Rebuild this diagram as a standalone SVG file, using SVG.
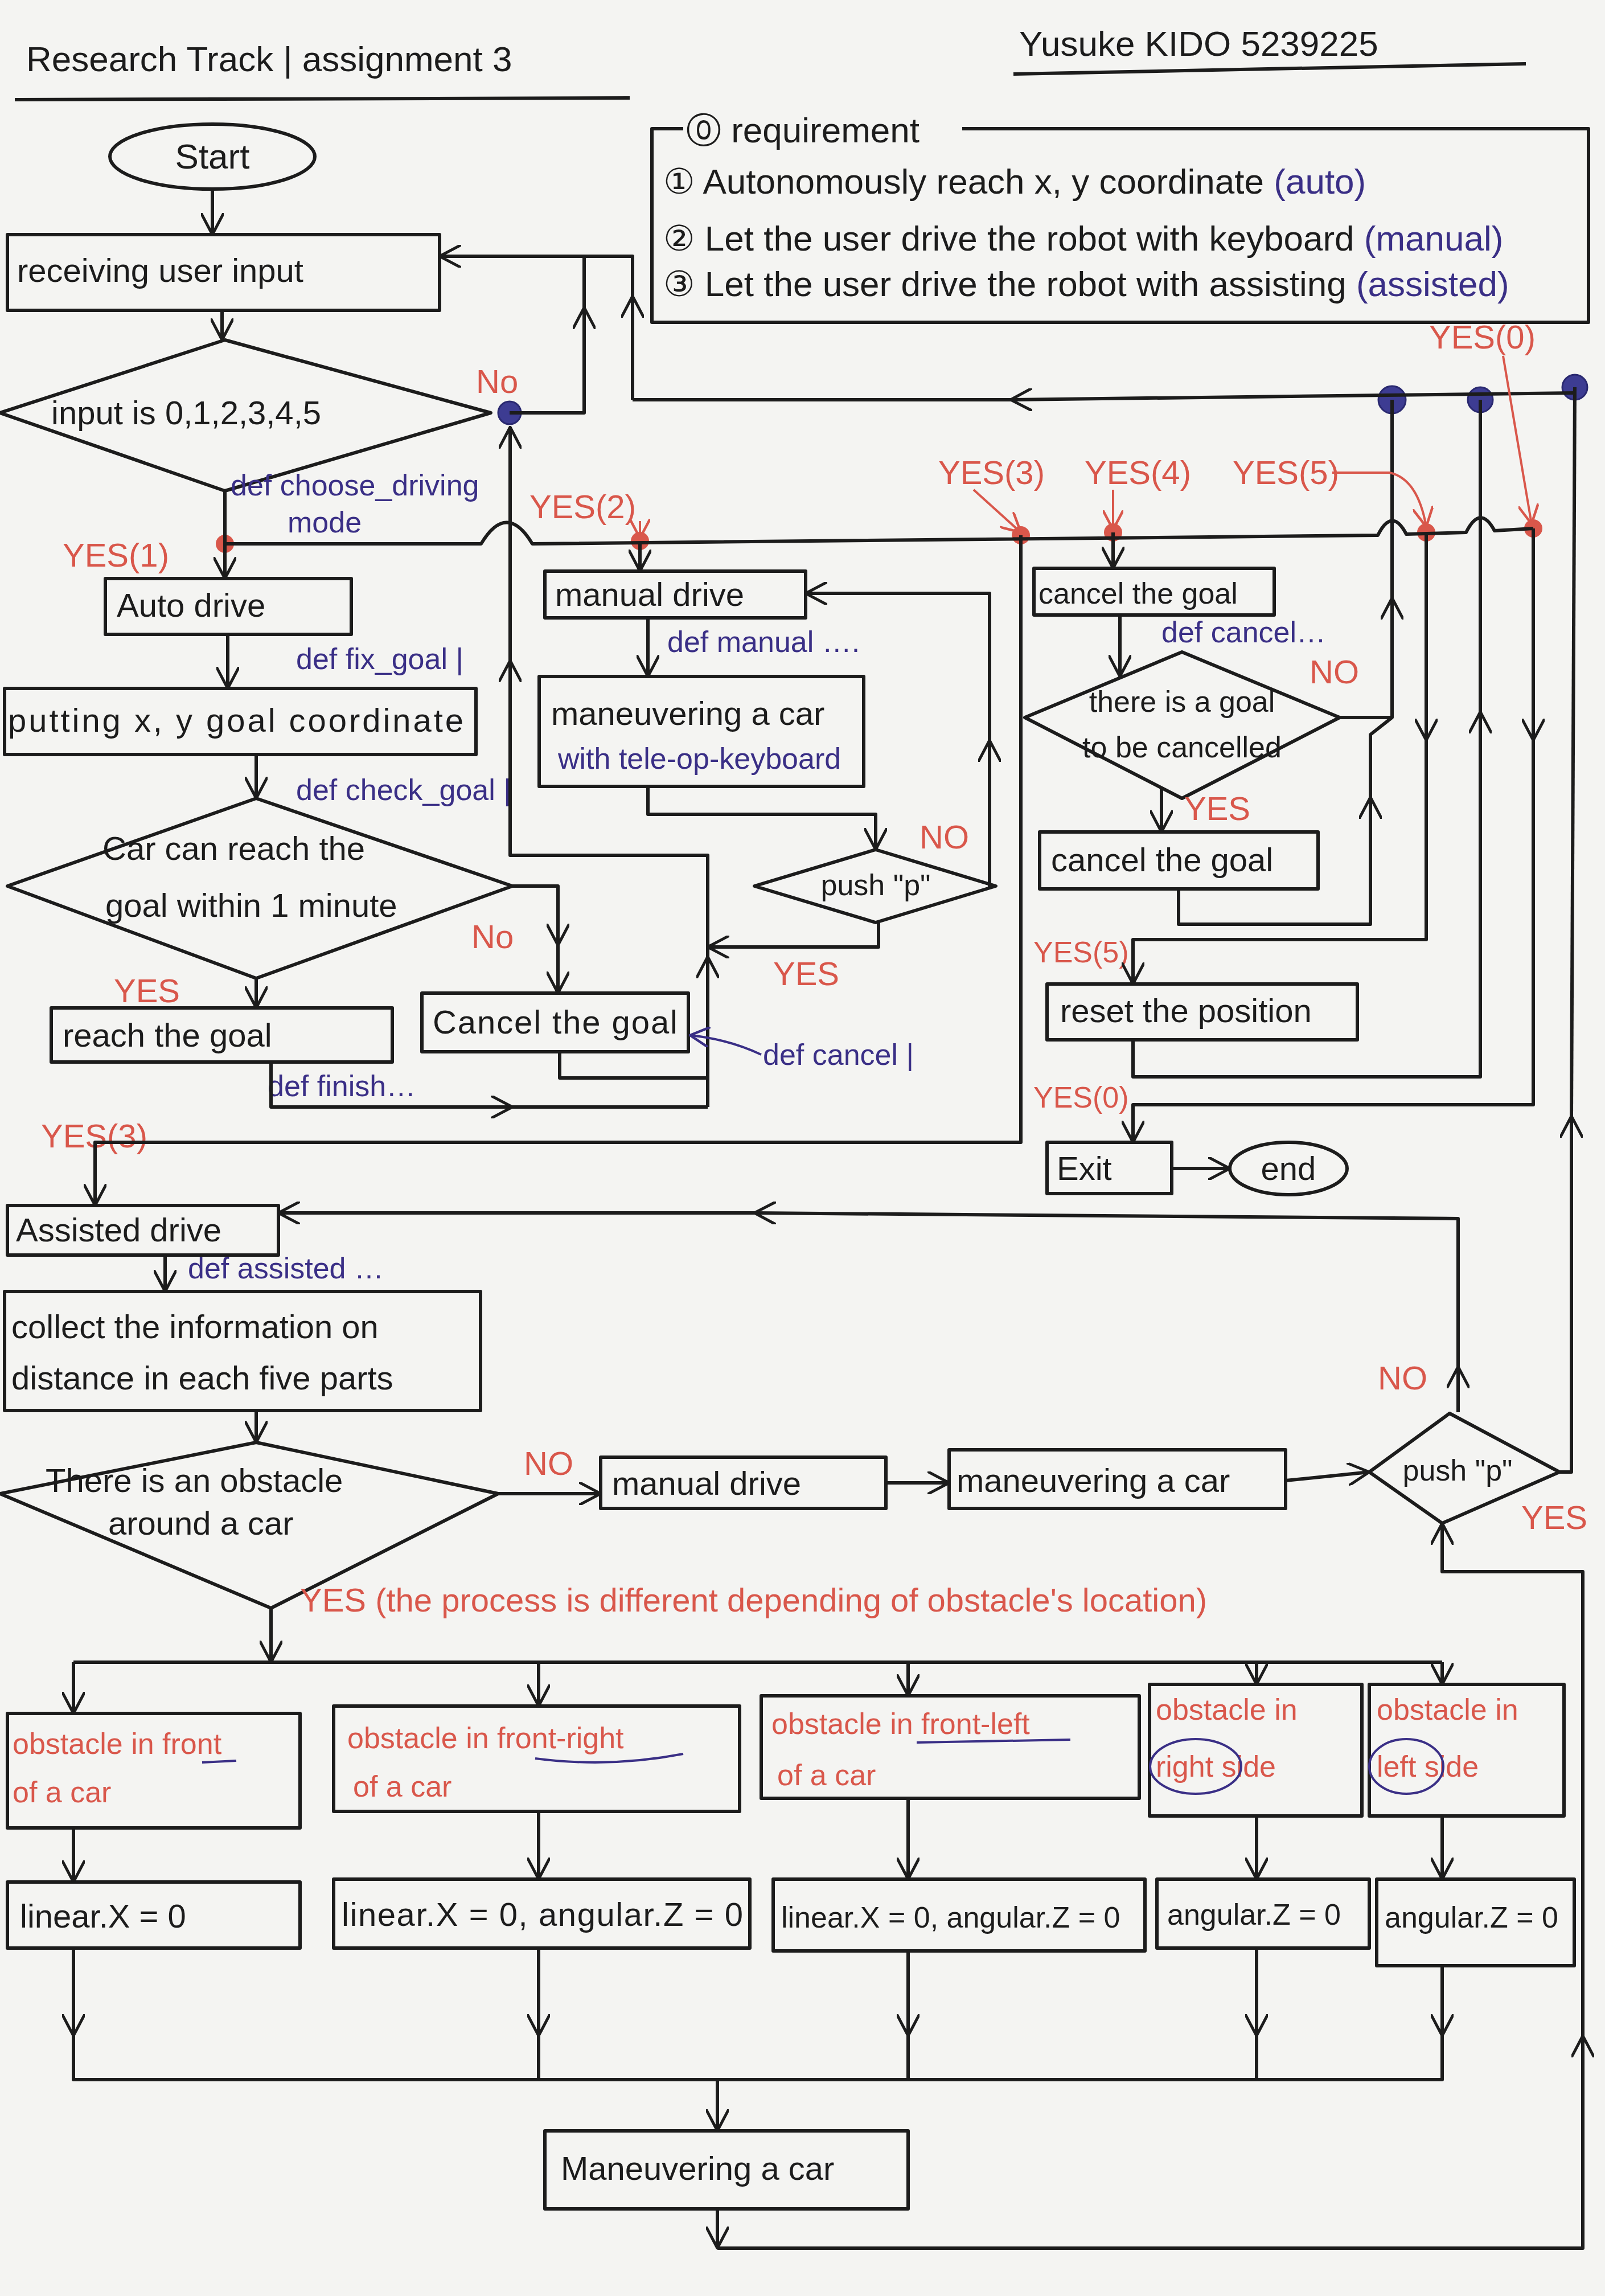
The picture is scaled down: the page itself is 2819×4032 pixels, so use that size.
<svg xmlns="http://www.w3.org/2000/svg" width="2819" height="4032" viewBox="0 0 2819 4032">
<defs>
<style>
.bg{fill:#f4f4f2}
.n{fill:none;stroke:#1c1c1c;stroke-width:6;stroke-linejoin:round}
.c path{fill:none;stroke:#1c1c1c;stroke-width:6;stroke-linejoin:round}
.c path.r{stroke:#d9574b;stroke-width:4}
.c path.b{stroke:#3a2f86;stroke-width:4}
text{font-family:"Liberation Sans","DejaVu Sans",sans-serif;fill:#1c1c1c;font-size:58px}
.t{font-size:62px}
.q{font-size:62px}
.red{fill:#d9574b}
.blu{fill:#3a2f86}
.s{font-size:52px}
.dotb{fill:#3d3c92;stroke:#2a2970;stroke-width:3}
.dotr{fill:#d9574b}
.dec{fill:none;stroke:#3a2f86;stroke-width:4}
</style>
<marker id="ab" viewBox="0 0 20 20" refX="19" refY="10" markerWidth="40" markerHeight="40" markerUnits="userSpaceOnUse" orient="auto"><path d="M0,0 L19,10 L0,20" fill="none" stroke="#1c1c1c" stroke-width="2.5"/></marker>
<marker id="ar" viewBox="0 0 20 20" refX="19" refY="10" markerWidth="36" markerHeight="36" markerUnits="userSpaceOnUse" orient="auto"><path d="M0,0 L19,10 L0,20" fill="none" stroke="#d9574b" stroke-width="2.5"/></marker>
<marker id="abl" viewBox="0 0 20 20" refX="19" refY="10" markerWidth="36" markerHeight="36" markerUnits="userSpaceOnUse" orient="auto"><path d="M0,0 L19,10 L0,20" fill="none" stroke="#3a2f86" stroke-width="2.5"/></marker>
</defs>
<rect class="bg" x="0" y="0" width="2819" height="4032"/>

<g id="header">
<text x="46" y="125" class="t">Research  Track |  assignment 3</text>
<path class="n" d="M26,175 L1106,172"/>
<text x="1790" y="98" class="t">Yusuke KIDO  5239225</text>
<path class="n" d="M1780,130 L2680,112"/>
</g>

<g id="requirements">
<path class="n" d="M1690,226 L2790,226 L2790,566 L1145,566 L1145,226 L1200,226"/>
<text x="1205" y="250" class="q">⓪ requirement</text>
<text x="1165" y="340" class="q">① Autonomously reach x, y coordinate <tspan class="blu">(auto)</tspan></text>
<text x="1165" y="440" class="q">② Let the user drive the robot with keyboard <tspan class="blu">(manual)</tspan></text>
<text x="1165" y="520" class="q">③ Let the user drive the robot with assisting <tspan class="blu">(assisted)</tspan></text>
</g>

<g id="start"><ellipse class="n" cx="373" cy="275" rx="180" ry="57"/><text x="373" y="296" class="t" text-anchor="middle">Start</text></g>
<g id="receiving"><rect class="n" x="13" y="412" width="759" height="133"/><text x="30" y="495">receiving  user  input</text></g>
<g id="input-check"><path class="n" d="M0,725 L395,597 L862,725 L395,862 Z"/><text x="90" y="745">input is 0,1,2,3,4,5</text></g>

<g id="auto-drive"><rect class="n" x="185" y="1016" width="432" height="98"/><text x="205" y="1083">Auto  drive</text></g>
<g id="put-goal"><rect class="n" x="8" y="1209" width="828" height="116"/><text x="14" y="1285" textLength="800">putting x, y goal coordinate</text></g>
<g id="check-goal"><path class="n" d="M13,1556 L450,1402 L900,1556 L450,1718 Z"/><text x="180" y="1510">Car can reach the</text><text x="185" y="1610">goal within 1 minute</text></g>
<g id="reach-goal"><rect class="n" x="90" y="1770" width="599" height="95"/><text x="110" y="1838">reach  the  goal</text></g>
<g id="cancel-goal-1"><rect class="n" x="741" y="1744" width="468" height="103"/><text x="760" y="1815" textLength="430">Cancel the goal</text></g>

<g id="manual-drive"><rect class="n" x="957" y="1003" width="458" height="82"/><text x="975" y="1064">manual  drive</text></g>
<g id="maneuver-keyboard"><rect class="n" x="947" y="1188" width="570" height="193"/><text x="968" y="1273">maneuvering a car</text><text x="980" y="1350" class="s blu">with tele-op-keyboard</text></g>
<g id="push-p-1"><path class="n" d="M1325,1556 L1538,1492 L1749,1556 L1538,1620 Z"/><text x="1538" y="1572" class="s" text-anchor="middle">push "p"</text></g>

<g id="cancel-goal-2"><rect class="n" x="1816" y="998" width="422" height="82"/><text x="1824" y="1060" class="s">cancel the goal</text></g>
<g id="goal-exists"><path class="n" d="M1800,1260 L2076,1145 L2353,1260 L2076,1402 Z"/><text x="2076" y="1250" class="s" text-anchor="middle">there is a goal</text><text x="2076" y="1330" class="s" text-anchor="middle">to be cancelled</text></g>
<g id="cancel-goal-3"><rect class="n" x="1826" y="1461" width="489" height="100"/><text x="1846" y="1530">cancel the goal</text></g>
<g id="reset"><rect class="n" x="1839" y="1728" width="545" height="98"/><text x="1862" y="1795">reset the position</text></g>
<g id="exit"><rect class="n" x="1839" y="2006" width="219" height="90"/><text x="1856" y="2072">Exit</text></g>
<g id="end"><ellipse class="n" cx="2263" cy="2052" rx="103" ry="46"/><text x="2263" y="2072" text-anchor="middle">end</text></g>

<g id="assisted-drive"><rect class="n" x="13" y="2117" width="476" height="87"/><text x="28" y="2180">Assisted drive</text></g>
<g id="collect"><rect class="n" x="8" y="2268" width="836" height="209"/><text x="20" y="2350">collect the information on</text><text x="20" y="2440">distance in each five parts</text></g>
<g id="obstacle-check"><path class="n" d="M0,2623 L450,2533 L875,2623 L476,2824 Z"/><text x="80" y="2620">There is an obstacle</text><text x="190" y="2695">around a car</text></g>
<g id="manual-drive-2"><rect class="n" x="1055" y="2559" width="501" height="90"/><text x="1075" y="2625">manual drive</text></g>
<g id="maneuver-2"><rect class="n" x="1667" y="2546" width="591" height="103"/><text x="1680" y="2620">maneuvering  a car</text></g>
<g id="push-p-2"><path class="n" d="M2405,2585 L2546,2482 L2739,2585 L2533,2675 Z"/><text x="2560" y="2600" class="s" text-anchor="middle">push "p"</text></g>

<g id="obs-front"><rect class="n" x="13" y="3009" width="514" height="201"/><text x="22" y="3080" class="s red">obstacle in front</text><text x="22" y="3165" class="s red">of a car</text><path class="dec" d="M355,3095 L415,3092"/></g>
<g id="obs-front-right"><rect class="n" x="586" y="2996" width="713" height="185"/><text x="610" y="3070" class="s red">obstacle in front-right</text><text x="620" y="3155" class="s red">of a car</text><path class="dec" d="M940,3088 Q1070,3105 1200,3080"/></g>
<g id="obs-front-left"><rect class="n" x="1337" y="2978" width="664" height="180"/><text x="1355" y="3045" class="s red">obstacle in front-left</text><text x="1365" y="3135" class="s red">of a car</text><path class="dec" d="M1610,3060 L1880,3055"/></g>
<g id="obs-right"><rect class="n" x="2019" y="2958" width="373" height="231"/><text x="2030" y="3020" class="s red">obstacle in</text><text x="2030" y="3120" class="s red">right side</text><ellipse class="dec" cx="2100" cy="3102" rx="80" ry="48"/></g>
<g id="obs-left"><rect class="n" x="2405" y="2958" width="342" height="231"/><text x="2418" y="3020" class="s red">obstacle in</text><text x="2418" y="3120" class="s red">left side</text><ellipse class="dec" cx="2470" cy="3102" rx="65" ry="48"/></g>

<g id="act-1"><rect class="n" x="13" y="3305" width="514" height="116"/><text x="35" y="3385">linear.X = 0</text></g>
<g id="act-2"><rect class="n" x="586" y="3300" width="731" height="121"/><text x="600" y="3382" textLength="705">linear.X = 0, angular.Z = 0</text></g>
<g id="act-3"><rect class="n" x="1358" y="3300" width="653" height="126"/><text x="1372" y="3385" class="s">linear.X = 0, angular.Z = 0</text></g>
<g id="act-4"><rect class="n" x="2032" y="3300" width="373" height="121"/><text x="2050" y="3380" class="s">angular.Z = 0</text></g>
<g id="act-5"><rect class="n" x="2418" y="3300" width="347" height="152"/><text x="2432" y="3385" class="s">angular.Z = 0</text></g>

<g id="maneuver-final"><rect class="n" x="957" y="3742" width="638" height="137"/><text x="985" y="3828">Maneuvering a car</text></g>

<g id="labels">
<text x="836" y="690" class="red">No</text>
<text x="405" y="870" class="s blu">def choose_driving</text>
<text x="505" y="935" class="s blu">mode</text>
<text x="110" y="995" class="red">YES(1)</text>
<text x="930" y="910" class="red">YES(2)</text>
<text x="520" y="1175" class="s blu">def fix_goal |</text>
<text x="520" y="1405" class="s blu">def check_goal |</text>
<text x="828" y="1665" class="red">No</text>
<text x="200" y="1760" class="red">YES</text>
<text x="470" y="1925" class="s blu">def finish…</text>
<text x="1340" y="1870" class="s blu">def cancel |</text>
<text x="1172" y="1145" class="s blu">def manual ….</text>
<text x="1615" y="1490" class="red">NO</text>
<text x="1358" y="1730" class="red">YES</text>
<text x="1648" y="850" class="red">YES(3)</text>
<text x="1905" y="850" class="red">YES(4)</text>
<text x="2165" y="850" class="red">YES(5)</text>
<text x="2510" y="612" class="red">YES(0)</text>
<text x="2040" y="1128" class="s blu">def cancel…</text>
<text x="2300" y="1200" class="red">NO</text>
<text x="2080" y="1440" class="red">YES</text>
<text x="1815" y="1690" class="s red">YES(5)</text>
<text x="1815" y="1945" class="s red">YES(0)</text>
<text x="72" y="2015" class="red">YES(3)</text>
<text x="330" y="2245" class="s blu">def assisted …</text>
<text x="920" y="2590" class="red">NO</text>
<text x="2420" y="2440" class="red">NO</text>
<text x="2672" y="2685" class="red">YES</text>
<text x="527" y="2830" class="red">YES (the process is different depending of obstacle's location)</text>
</g>

<g id="dots">
<circle class="dotb" cx="895" cy="725" r="20"/>
<circle class="dotb" cx="2445" cy="702" r="24"/>
<circle class="dotb" cx="2600" cy="702" r="22"/>
<circle class="dotb" cx="2766" cy="680" r="22"/>
<circle class="dotr" cx="395" cy="955" r="16"/>
<circle class="dotr" cx="1124" cy="950" r="16"/>
<circle class="dotr" cx="1793" cy="940" r="16"/>
<circle class="dotr" cx="1955" cy="935" r="16"/>
<circle class="dotr" cx="2505" cy="935" r="16"/>
<circle class="dotr" cx="2693" cy="928" r="16"/>
</g>

<g id="connectors" class="c">
<path d="M373,332 L373,412" marker-end="url(#ab)"/>
<path d="M390,545 L390,597" marker-end="url(#ab)"/>
<path d="M895,725 L1026,725 L1026,540" marker-end="url(#ab)"/>
<path d="M1026,540 L1026,450"/>
<path d="M1111,702 L1111,450 L772,450" marker-end="url(#ab)"/>
<path d="M1111,540 L1111,520" marker-end="url(#ab)"/>
<path d="M2766,690 L1775,702" marker-end="url(#ab)"/>
<path d="M1775,702 L1111,702"/>
<path d="M395,862 L395,955 L845,955 Q890,880 935,955 L2420,940 Q2445,890 2470,938 L2575,935 Q2600,885 2625,932 L2693,928"/>
<path d="M1243,1944 L1243,1502 L896,1502 L896,750" marker-end="url(#ab)"/>
<path d="M896,1200 L896,1160" marker-end="url(#ab)"/>
<path d="M1243,1720 L1243,1680" marker-end="url(#ab)"/>
<path d="M395,955 L395,1016" marker-end="url(#ab)"/>
<path d="M400,1114 L400,1209" marker-end="url(#ab)"/>
<path d="M450,1325 L450,1402" marker-end="url(#ab)"/>
<path d="M450,1718 L450,1770" marker-end="url(#ab)"/>
<path d="M900,1556 L980,1556 L980,1744" marker-end="url(#ab)"/>
<path d="M980,1600 L980,1660" marker-end="url(#ab)"/>
<path d="M476,1865 L476,1944 L900,1944" marker-end="url(#ab)"/>
<path d="M900,1944 L1243,1944"/>
<path d="M983,1847 L983,1893 L1243,1893"/>
<path d="M1124,955 L1124,1003" marker-end="url(#ab)"/>
<path d="M1138,1085 L1138,1188" marker-end="url(#ab)"/>
<path d="M1138,1381 L1138,1430 L1538,1430 L1538,1492" marker-end="url(#ab)"/>
<path d="M1749,1556 L1738,1556 L1738,1300" marker-end="url(#ab)"/>
<path d="M1738,1300 L1738,1042 L1415,1042" marker-end="url(#ab)"/>
<path d="M1543,1620 L1543,1663 L1243,1663" marker-end="url(#ab)"/>
<path class="b" d="M1337,1852 Q1280,1825 1212,1818" marker-end="url(#abl)"/>
<path d="M1793,940 L1793,2006 L167,2006 L167,2117" marker-end="url(#ab)"/>
<path d="M1955,935 L1955,998" marker-end="url(#ab)"/>
<path d="M1967,1080 L1967,1188" marker-end="url(#ab)"/>
<path d="M2040,1385 L2040,1461" marker-end="url(#ab)"/>
<path d="M2353,1260 L2445,1260"/>
<path d="M2070,1561 L2070,1623 L2407,1623 L2407,1400" marker-end="url(#ab)"/>
<path d="M2407,1400 L2407,1290 L2445,1260 L2445,1050" marker-end="url(#ab)"/>
<path d="M2445,1050 L2445,702"/>
<path d="M2505,935 L2505,1300" marker-end="url(#ab)"/>
<path d="M2505,1300 L2505,1650 L1990,1650 L1990,1728" marker-end="url(#ab)"/>
<path d="M1990,1826 L1990,1891 L2600,1891 L2600,1250" marker-end="url(#ab)"/>
<path d="M2600,1250 L2600,702"/>
<path d="M2693,928 L2693,1300" marker-end="url(#ab)"/>
<path d="M2693,1300 L2693,1940 L1990,1940 L1990,2006" marker-end="url(#ab)"/>
<path d="M2058,2052 L2160,2052" marker-end="url(#ab)"/>
<path d="M2739,2585 L2760,2585 L2760,1960" marker-end="url(#ab)"/>
<path d="M2760,1960 L2766,680"/>
<path d="M2561,2480 L2561,2400" marker-end="url(#ab)"/>
<path d="M2561,2400 L2561,2140 L1325,2130" marker-end="url(#ab)"/>
<path d="M1325,2130 L489,2130" marker-end="url(#ab)"/>
<path d="M290,2204 L290,2268" marker-end="url(#ab)"/>
<path d="M450,2477 L450,2533" marker-end="url(#ab)"/>
<path d="M875,2623 L1055,2623" marker-end="url(#ab)"/>
<path d="M1556,2604 L1667,2604" marker-end="url(#ab)"/>
<path d="M2258,2600 L2405,2585" marker-end="url(#ab)"/>
<path d="M476,2824 L476,2919" marker-end="url(#ab)"/>
<path d="M129,2919 L2533,2919"/>
<path d="M129,2919 L129,3009" marker-end="url(#ab)"/>
<path d="M946,2919 L946,2996" marker-end="url(#ab)"/>
<path d="M1595,2919 L1595,2978" marker-end="url(#ab)"/>
<path d="M2207,2919 L2207,2958" marker-end="url(#ab)"/>
<path d="M2533,2919 L2533,2958" marker-end="url(#ab)"/>
<path d="M129,3210 L129,3305" marker-end="url(#ab)"/>
<path d="M946,3181 L946,3300" marker-end="url(#ab)"/>
<path d="M1595,3158 L1595,3300" marker-end="url(#ab)"/>
<path d="M2207,3189 L2207,3300" marker-end="url(#ab)"/>
<path d="M2533,3189 L2533,3300" marker-end="url(#ab)"/>
<path d="M129,3421 L129,3575" marker-end="url(#ab)"/>
<path d="M946,3421 L946,3575" marker-end="url(#ab)"/>
<path d="M1595,3426 L1595,3575" marker-end="url(#ab)"/>
<path d="M2207,3421 L2207,3575" marker-end="url(#ab)"/>
<path d="M2533,3452 L2533,3575" marker-end="url(#ab)"/>
<path d="M129,3575 L129,3652 L2533,3652 L2533,3575"/>
<path d="M946,3575 L946,3652 M1595,3575 L1595,3652 M2207,3575 L2207,3652"/>
<path d="M1260,3652 L1260,3742" marker-end="url(#ab)"/>
<path d="M1260,3879 L1260,3948" marker-end="url(#ab)"/>
<path d="M1260,3948 L2780,3948 L2780,3575" marker-end="url(#ab)"/>
<path d="M2780,3575 L2780,2760 L2533,2760 L2533,2675" marker-end="url(#ab)"/>
<path class="r" d="M1710,860 L1793,935" marker-end="url(#ar)"/>
<path class="r" d="M1955,860 L1955,930" marker-end="url(#ar)"/>
<path class="r" d="M1124,915 L1124,945" marker-end="url(#ar)"/>
<path class="r" d="M2340,830 L2440,830 Q2490,840 2505,925" marker-end="url(#ar)"/>
<path class="r" d="M2640,625 L2690,920" marker-end="url(#ar)"/>
</g>
</svg>
